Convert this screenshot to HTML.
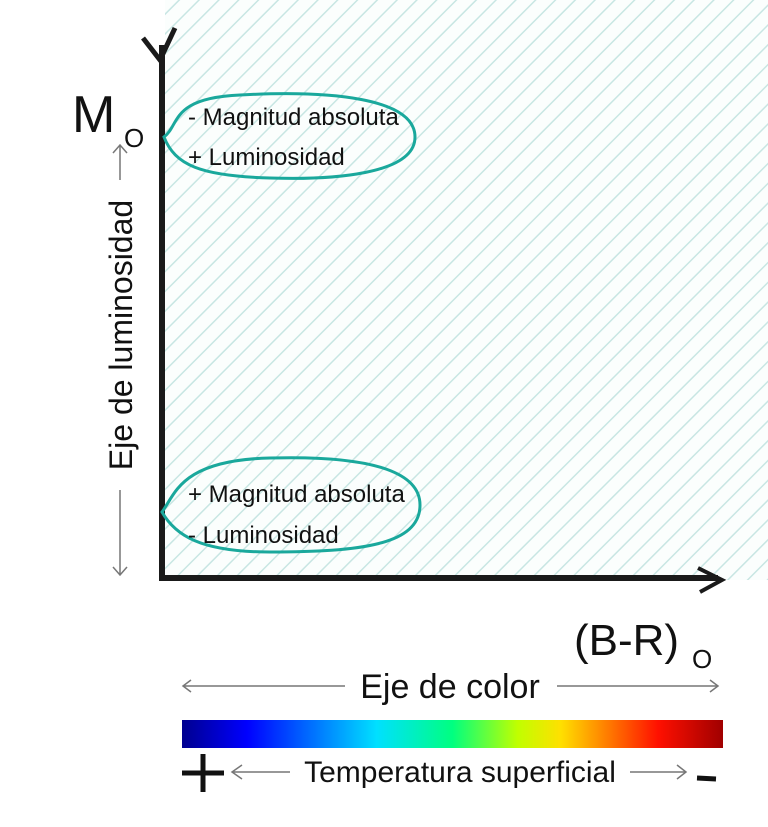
<!DOCTYPE html>
<html><head><style>
html,body{margin:0;padding:0;background:#fff;}
svg{display:block;}
text{font-family:"Liberation Sans Narrow","Liberation Sans",sans-serif;fill:#111;}
</style></head><body>
<svg width="768" height="827" viewBox="0 0 768 827" xmlns="http://www.w3.org/2000/svg">
<defs>
<pattern id="h" width="14" height="14" patternUnits="userSpaceOnUse" patternTransform="rotate(45)">
<rect width="14" height="14" fill="#fbfefd"/>
<line x1="0" y1="0" x2="0" y2="14" stroke="#c8e6e3" stroke-width="3"/>
</pattern>
<linearGradient id="jet" x1="0" x2="1" y1="0" y2="0">
<stop offset="0" stop-color="#00008f"/>
<stop offset="0.12" stop-color="#0000ff"/>
<stop offset="0.36" stop-color="#00e0ff"/>
<stop offset="0.5" stop-color="#00ff80"/>
<stop offset="0.62" stop-color="#c0ff00"/>
<stop offset="0.7" stop-color="#ffe000"/>
<stop offset="0.88" stop-color="#ff1000"/>
<stop offset="1" stop-color="#a00000"/>
</linearGradient>
</defs>
<rect x="165" y="0" width="603" height="580" fill="url(#h)"/>
<path d="M162 45 L162 578 L718 578" stroke="#1a1a1a" stroke-width="6" fill="none"/>
<path d="M143 38 L160 60 L175 28" stroke="#1a1a1a" stroke-width="5" fill="none"/>
<path d="M698 568 L722 580 L700 592" stroke="#1a1a1a" stroke-width="4" fill="none"/>
<text x="72" y="132" font-size="52">M</text>
<text x="124" y="147" font-size="26">O</text>
<text x="574" y="655" font-size="44">(B-R)</text>
<text x="692" y="668" font-size="26">O</text>
<text transform="translate(132 335) rotate(-90)" text-anchor="middle" font-size="32">Eje de luminosidad</text>
<path d="M120 180 L120 145 M113 153 L120 145 L127 153" stroke="#777" stroke-width="1.5" fill="none"/>
<path d="M120 490 L120 575 M113 567 L120 575 L127 567" stroke="#777" stroke-width="1.5" fill="none"/>
<path d="M164 137 C180 125 170 98 240 95 C330 90 415 98 415 137 C415 175 330 180 270 178 C200 176 175 165 164 137 Z" fill="none" stroke="#1aa89c" stroke-width="3"/>
<text x="188" y="125" font-size="24">- Magnitud absoluta</text>
<text x="188" y="165" font-size="24">+ Luminosidad</text>
<path d="M162 512 C175 495 180 460 270 458 C380 455 420 475 420 505 C420 545 360 552 270 552 C200 552 175 535 162 512 Z" fill="none" stroke="#1aa89c" stroke-width="3"/>
<text x="188" y="502" font-size="24">+ Magnitud absoluta</text>
<text x="188" y="543" font-size="24">- Luminosidad</text>
<text x="450" y="698" text-anchor="middle" font-size="34">Eje de color</text>
<path d="M183 686 L345 686 M191 680 L183 686 L191 692" stroke="#777" stroke-width="1.5" fill="none"/>
<path d="M557 686 L718 686 M710 680 L718 686 L710 692" stroke="#777" stroke-width="1.5" fill="none"/>
<rect x="182" y="720" width="541" height="28" fill="url(#jet)"/>
<text x="460" y="782" text-anchor="middle" font-size="30">Temperatura superficial</text>
<path d="M182 773 L224 773 M203 754 L203 792" stroke="#111" stroke-width="5"/>
<path d="M232 772 L290 772 M242 765 L232 772 L242 779" stroke="#777" stroke-width="1.5" fill="none"/>
<path d="M630 772 L686 772 M677 765 L686 772 L677 779" stroke="#777" stroke-width="1.5" fill="none"/>
<path d="M697 778 L716 779" stroke="#111" stroke-width="5"/>
</svg>
</body></html>
